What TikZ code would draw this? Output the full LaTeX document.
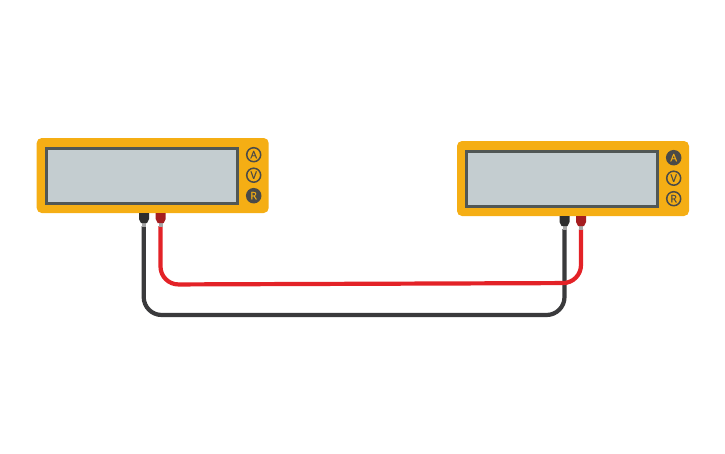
\documentclass[tikz,border=0pt]{standalone}
\usepackage{fontspec}
\setmainfont{Open Sans}[FakeBold=0.6]
\usetikzlibrary{calc}
\definecolor{amber}{HTML}{F5AE14}
\definecolor{lcd}{HTML}{C4CDD0}
\definecolor{bezel}{HTML}{515755}
\definecolor{dial}{HTML}{4A4A48}
\definecolor{wireblack}{HTML}{3A3A3C}
\definecolor{wirered}{HTML}{E32227}
\definecolor{plugblack}{HTML}{2E2E2E}
\definecolor{plugred}{HTML}{A51D20}
\tikzset{
  x=1pt,y=-1pt,
  meterbody/.style={fill=amber,draw=none,rounded corners=5pt,minimum width=232pt,minimum height=75pt,inner sep=0pt,outer sep=0pt},
  meterscreen/.style={fill=lcd,draw=bezel,line width=3pt,minimum width=191.3pt,minimum height=55.3pt,inner sep=0pt},
  dialon/.style={circle,fill=dial,draw=dial,line width=1.5pt,minimum size=14pt,inner sep=0pt,text=amber,font=\fontsize{10.5}{11}\selectfont},
  dialoff/.style={circle,fill=amber,draw=dial,line width=1.5pt,minimum size=14pt,inner sep=0pt,text=dial,font=\fontsize{10.5}{11}\selectfont},
  plugtip/.style={fill=gray!70,minimum width=4pt,minimum height=4pt,inner sep=0pt,outer sep=0pt,draw=none},
  wire/.style={line width=4.2pt,rounded corners=18pt}
}
\begin{document}
\begin{tikzpicture}
\useasboundingbox (0,0) rectangle (725,453);
\coordinate (bl) at (143.7,226);
\coordinate (rl) at (160.5,226);
\coordinate (br) at (564.5,229);
\coordinate (rr) at (581,229);
\draw[wire,wireblack] (bl) -- (143.7,315) -- (564.5,315) -- (br);
\draw[wire,wirered] (rl) -- (160.5,284.5) -- (581,283) -- (rr);
% left meter
\node[meterbody] (bodyL) at (152.7,175.5) {};
\node[meterscreen] (screenL) at (141.8,175.9) {};
\node[dialoff] (aL) at (253.7,154.7) {A};
\node[dialoff] (vL) at (253.7,175.2) {V};
\node[dialon] (oL) at (253.7,195.7) {R};
\node[plugtip] (tipbL) at (143.7,225) {};
\node[plugtip] (tiprL) at (160.5,225) {};
\path[fill=plugblack] (139,213) -- (149,213) -- (149,219) -- (147,223) -- (141,223) -- (139,219) -- cycle;
\path[fill=plugred] (155.7,213) -- (165.7,213) -- (165.7,219) -- (163.7,223) -- (157.7,223) -- (155.7,219) -- cycle;
% right meter
\node[meterbody] (bodyR) at (573,178.5) {};
\node[meterscreen] (screenR) at (562.1,178.9) {};
\node[dialon] (aR) at (673.7,157.7) {A};
\node[dialoff] (vR) at (673.7,178.2) {V};
\node[dialoff] (oR) at (673.7,198.7) {R};
\node[plugtip] (tipbR) at (564.5,228) {};
\node[plugtip] (tiprR) at (581,228) {};
\path[fill=plugblack] (559.5,216) -- (569.5,216) -- (569.5,222) -- (567.5,226) -- (561.5,226) -- (559.5,222) -- cycle;
\path[fill=plugred] (576,216) -- (586,216) -- (586,222) -- (584,226) -- (578,226) -- (576,222) -- cycle;
\end{tikzpicture}
\end{document}
